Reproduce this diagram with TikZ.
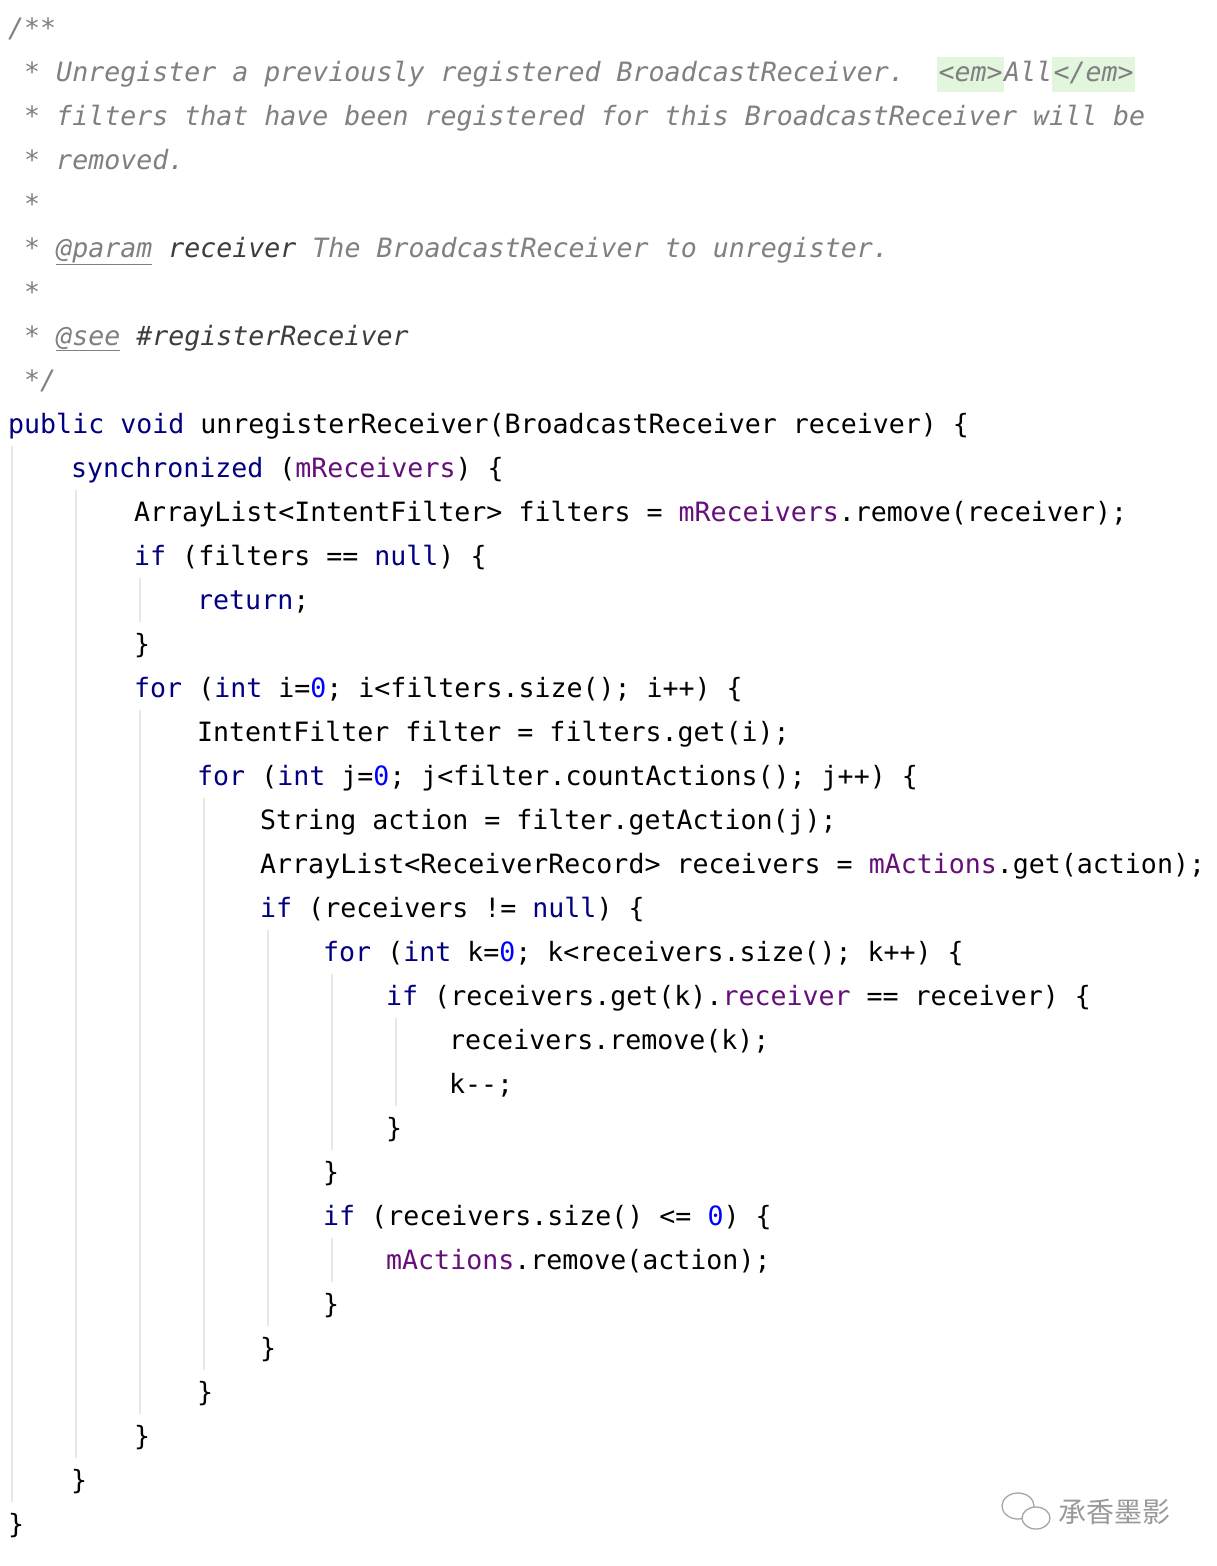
\documentclass[tikz,border=0pt]{standalone}
\usepackage{fontspec}
\newfontfamily\code{DejaVu Sans Mono}
\newfontfamily\cjk{Noto Sans CJK SC}
\definecolor{kwc}{HTML}{000080}
\definecolor{numc}{HTML}{0000FF}
\definecolor{fldc}{HTML}{660E7A}
\definecolor{cmc}{HTML}{808080}
\definecolor{tagc}{HTML}{3D3D3D}
\definecolor{emc}{HTML}{E2F5DD}
\definecolor{guidec}{HTML}{E6E6E6}
\newcommand{\kw}[1]{\textcolor{kwc}{#1}}
\newcommand{\nm}[1]{\textcolor{numc}{#1}}
\newcommand{\fl}[1]{\textcolor{fldc}{#1}}
\newcommand{\cm}[1]{\textcolor{cmc}{\itshape #1}}
\newcommand{\emtag}[1]{{\setlength{\fboxsep}{1.5pt}\colorbox{emc}{\rule[-9pt]{0pt}{32pt}\textcolor{cmc}{\itshape #1}}}}
\newcommand{\codeline}[4]{\node[ln] (#1) at ({8+15.75*#2},{37+44*(#3-1)}) {#4};}
\newcommand{\cmline}[4]{\node[ln] (#1) at ({8+15.75*#2},{37+44*(#3-1)}) {#4};}
\newcommand{\guideline}[3]{\draw[guide] ({12+64*#1},{28+44*(#2-1)-22}) -- ({12+64*#1},{28+44*(#3-1)+22});}
\begin{document}
\begin{tikzpicture}[x=1pt,y=-1pt,
  ln/.style={anchor=base west,inner sep=0pt,font=\code\fontsize{26.6}{30}\selectfont},
  guide/.style={draw=guidec,line width=1.2pt}]
\useasboundingbox[fill=white] (0,0) rectangle (1216,1566);
\guideline{0}{11}{34}
\guideline{1}{12}{33}
\guideline{2}{14}{14}
\guideline{2}{17}{32}
\guideline{3}{19}{31}
\guideline{4}{22}{30}
\guideline{5}{23}{26}
\guideline{5}{29}{29}
\guideline{6}{24}{25}
\cmline{l1}{0}{1}{\cm{/**}}
\cmline{l2}{0}{2}{\cm{\ *\ Unregister a previously registered BroadcastReceiver.\ \ }\emtag{<em>}\cm{All}\emtag{</em>}}
\cmline{l3}{0}{3}{\cm{\ *\ filters that have been registered for this BroadcastReceiver will be}}
\cmline{l4}{0}{4}{\cm{\ *\ removed.}}
\cmline{l5}{0}{5}{\cm{\ *}}
\cmline{l6}{0}{6}{\cm{\ *\ \underline{@param}\ \textcolor{tagc}{receiver} The BroadcastReceiver to unregister.}}
\cmline{l7}{0}{7}{\cm{\ *}}
\cmline{l8}{0}{8}{\cm{\ *\ \underline{@see}\ \textcolor{tagc}{\#registerReceiver}}}
\cmline{l9}{0}{9}{\cm{\ */}}
\codeline{l10}{0}{10}{\kw{public} \kw{void} unregisterReceiver(BroadcastReceiver receiver) \{}
\codeline{l11}{4}{11}{\kw{synchronized} (\fl{mReceivers}) \{}
\codeline{l12}{8}{12}{ArrayList<IntentFilter> filters = \fl{mReceivers}.remove(receiver);}
\codeline{l13}{8}{13}{\kw{if} (filters == \kw{null}) \{}
\codeline{l14}{12}{14}{\kw{return};}
\codeline{l15}{8}{15}{\}}
\codeline{l16}{8}{16}{\kw{for} (\kw{int} i=\nm{0}; i<filters.size(); i++) \{}
\codeline{l17}{12}{17}{IntentFilter filter = filters.get(i);}
\codeline{l18}{12}{18}{\kw{for} (\kw{int} j=\nm{0}; j<filter.countActions(); j++) \{}
\codeline{l19}{16}{19}{String action = filter.getAction(j);}
\codeline{l20}{16}{20}{ArrayList<ReceiverRecord> receivers = \fl{mActions}.get(action);}
\codeline{l21}{16}{21}{\kw{if} (receivers != \kw{null}) \{}
\codeline{l22}{20}{22}{\kw{for} (\kw{int} k=\nm{0}; k<receivers.size(); k++) \{}
\codeline{l23}{24}{23}{\kw{if} (receivers.get(k).\fl{receiver} == receiver) \{}
\codeline{l24}{28}{24}{receivers.remove(k);}
\codeline{l25}{28}{25}{k-{}-;}
\codeline{l26}{24}{26}{\}}
\codeline{l27}{20}{27}{\}}
\codeline{l28}{20}{28}{\kw{if} (receivers.size() <= \nm{0}) \{}
\codeline{l29}{24}{29}{\fl{mActions}.remove(action);}
\codeline{l30}{20}{30}{\}}
\codeline{l31}{16}{31}{\}}
\codeline{l32}{12}{32}{\}}
\codeline{l33}{8}{33}{\}}
\codeline{l34}{4}{34}{\}}
\codeline{l35}{0}{35}{\}}
\draw[draw=gray!70,line width=1.3pt] (1018,1506) ellipse (16 and 13);
\draw[draw=gray!70,line width=1.3pt,fill=white] (1036,1518) ellipse (14 and 11);
\node[anchor=west,inner sep=0pt,text=gray!80,font=\cjk\fontsize{28}{30}\selectfont] (wm) at (1058,1512) {承香墨影};
\end{tikzpicture}
\end{document}
